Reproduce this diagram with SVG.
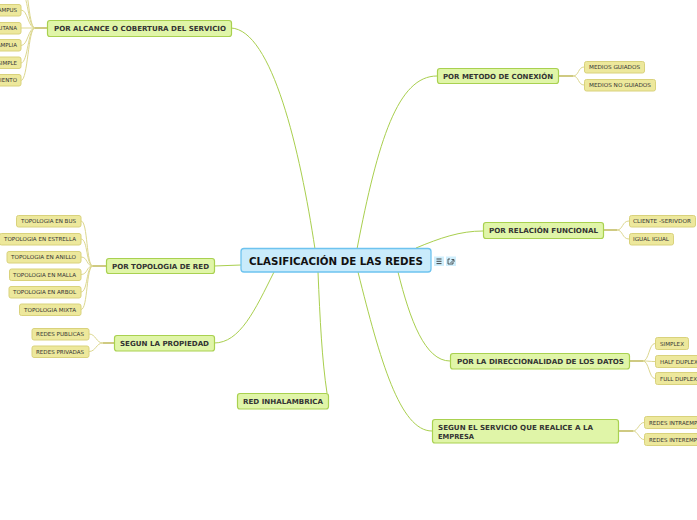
<svg xmlns="http://www.w3.org/2000/svg" width="697" height="520" viewBox="0 0 697 520">
<style>
.main rect{fill:#e0f5a8;stroke:#a9d150;stroke-width:1.2}
.main text{font-family:"DejaVu Sans",Verdana,sans-serif;font-weight:bold;font-size:7px;fill:#333}
.leaf rect{fill:#ede89c;stroke:#d9d27c;stroke-width:1}
.leaf text{font-family:"DejaVu Sans",Verdana,sans-serif;font-size:5.5px;fill:#333}
.c{fill:none;stroke:#a9cf4e;stroke-width:1}
.s{fill:none;stroke:#b5ad3e;stroke-width:1.3}
.l{fill:none;stroke:#dcd78f;stroke-width:1}
</style>
<rect width="697" height="520" fill="#fff"/>
<g id="connectors">
<path class="c" d="M315,249 C300,150 272,30 231,28"/>
<path class="c" d="M357,249 C378,140 398,76 437,76"/>
<path class="c" d="M416,248 C440,238 460,231 483,231"/>
<path class="c" d="M241,265 L214,266"/>
<path class="c" d="M274,272 C255,310 240,343 214,343"/>
<path class="c" d="M318,272 C320,320 322,360 327,393"/>
<path class="c" d="M398,272 C410,320 425,361 450,361"/>
<path class="c" d="M358,272 C380,360 400,431 432,431"/>
<path class="s" d="M47,28 H35"/>
<path class="l" d="M35,28 C28,28 28,-26 21,-26 M35,28 C28,28 28,-8 21,-8 M35,28 C28,28 28,10 21,10 M35,28 H21 M35,28 C28,28 28,45.5 21,45.5 M35,28 C28,28 28,63 21,63 M35,28 C28,28 28,80.5 21,80.5"/>
<path class="s" d="M559,76 H573"/>
<path class="l" d="M573,76 C579,76 578,67 584,67 M573,76 C579,76 578,85 584,85"/>
<path class="s" d="M603,230 H617"/>
<path class="l" d="M617,230 C623,230 622,221 629,221 M617,230 C623,230 622,239 629,239"/>
<path class="s" d="M106,266 H93"/>
<path class="l" d="M93,266 C86,266 88,221 81,221 M93,266 C86,266 88,239 81,239 M93,266 C86,266 88,257 81,257 M93,266 C86,266 88,274.5 81,274.5 M93,266 C86,266 88,292 81,292 M93,266 C86,266 88,309.5 81,309.5"/>
<path class="s" d="M115,343 H103"/>
<path class="l" d="M103,343 C96,343 96,334 89,334 M103,343 C96,343 96,351.5 89,351.5"/>
<path class="s" d="M629,361 H643"/>
<path class="l" d="M643,361 C649,361 649,343.5 655,343.5 M643,361 C649,361 649,361.5 655,361.5 M643,361 C649,361 649,378.5 655,378.5"/>
<path class="s" d="M619,431 H633"/>
<path class="l" d="M633,431 C638,431 639,422.5 644,422.5 M633,431 C638,431 639,439.5 644,439.5"/>
</g>
<g id="center">
<rect x="241" y="248.5" width="190" height="23.5" rx="3" fill="#c9ebfb" stroke="#6ec3ef" stroke-width="1.3"/>
<text x="336" y="264.5" text-anchor="middle" font-family="DejaVu Sans,Verdana,sans-serif" font-weight="bold" font-size="10" fill="#111" textLength="174" lengthAdjust="spacingAndGlyphs">CLASIFICACIÓN DE LAS REDES</text>
<rect x="434" y="256.5" width="10" height="9.5" fill="#cfeefc"/>
<path d="M436.5,259 h5 M436.5,261.3 h5 M436.5,263.6 h5" stroke="#333" stroke-width="0.9"/>
<rect x="446" y="256.5" width="10" height="9.5" fill="#cfeefc"/>
<path d="M450,259 h-2 v5 h5 v-2 M450.5,263 l3,-3 M451.5,259.5 h2.5 v2.5" stroke="#333" stroke-width="0.8" fill="none"/>
</g>
<g id="n-alcance" class="main"><rect x="47.5" y="20.5" width="184" height="16" rx="2.5"/><text x="54" y="31" textLength="172" lengthAdjust="spacingAndGlyphs">POR ALCANCE O COBERTURA DEL SERVICIO</text></g>
<g id="n-metodo" class="main"><rect x="437.5" y="68.5" width="121" height="15" rx="2.5"/><text x="443" y="78.7" textLength="110" lengthAdjust="spacingAndGlyphs">POR METODO DE CONEXIÓN</text></g>
<g id="n-relacion" class="main"><rect x="483.5" y="222.5" width="120" height="16" rx="2.5"/><text x="489" y="233" textLength="109" lengthAdjust="spacingAndGlyphs">POR RELACIÓN FUNCIONAL</text></g>
<g id="n-topologia" class="main"><rect x="106.5" y="258.5" width="108" height="15" rx="2.5"/><text x="112" y="268.7" textLength="97" lengthAdjust="spacingAndGlyphs">POR TOPOLOGIA DE RED</text></g>
<g id="n-propiedad" class="main"><rect x="114.5" y="335.5" width="100" height="15.5" rx="2.5"/><text x="120" y="346" textLength="89" lengthAdjust="spacingAndGlyphs">SEGUN LA PROPIEDAD</text></g>
<g id="n-inhalambrica" class="main"><rect x="237.5" y="393.5" width="91" height="15.5" rx="2.5"/><text x="243" y="404" textLength="80" lengthAdjust="spacingAndGlyphs">RED INHALAMBRICA</text></g>
<g id="n-direccionalidad" class="main"><rect x="450.5" y="353.5" width="179" height="15.5" rx="2.5"/><text x="457" y="364" textLength="167" lengthAdjust="spacingAndGlyphs">POR LA DIRECCIONALIDAD DE LOS DATOS</text></g>
<g id="n-servicio" class="main"><rect x="432.5" y="419.5" width="186" height="23.5" rx="2.5"/><text x="438" y="429.5" textLength="155" lengthAdjust="spacingAndGlyphs">SEGUN EL SERVICIO QUE REALICE A LA</text><text x="438" y="438.5" textLength="36" lengthAdjust="spacingAndGlyphs">EMPRESA</text></g>
<g id="l-campus" class="leaf"><rect x="-60" y="4.5" width="81" height="11.5" rx="2"/><text x="17" y="12.3" text-anchor="end">RED DE AREA CAMPUS</text></g>
<g id="l-metropolitana" class="leaf"><rect x="-80" y="22.5" width="101" height="11.5" rx="2"/><text x="17" y="30.3" text-anchor="end">RED DE AREA METROPOLITANA</text></g>
<g id="l-amplia" class="leaf"><rect x="-60" y="39.5" width="81" height="11.5" rx="2"/><text x="17" y="47.3" text-anchor="end">RED DE AREA AMPLIA</text></g>
<g id="l-simple" class="leaf"><rect x="-60" y="57" width="81" height="11.5" rx="2"/><text x="17" y="64.8" text-anchor="end">RED DE AREA SIMPLE</text></g>
<g id="l-almacenamiento" class="leaf"><rect x="-90" y="74.5" width="111" height="11.5" rx="2"/><text x="17" y="82.3" text-anchor="end">RED DE AREA DE ALMACENAMIENTO</text></g>
<g id="l-guiados" class="leaf"><rect x="584.5" y="61.5" width="60" height="11.5" rx="2"/><text x="589" y="69.2" textLength="51" lengthAdjust="spacingAndGlyphs">MEDIOS GUIADOS</text></g>
<g id="l-noguiados" class="leaf"><rect x="584.5" y="79.5" width="71" height="11.5" rx="2"/><text x="589" y="87.2" textLength="62" lengthAdjust="spacingAndGlyphs">MEDIOS NO GUIADOS</text></g>
<g id="l-cliente" class="leaf"><rect x="629.5" y="215.5" width="66" height="11.5" rx="2"/><text x="633" y="223.2" textLength="58" lengthAdjust="spacingAndGlyphs">CLIENTE -SERIVDOR</text></g>
<g id="l-igual" class="leaf"><rect x="629.5" y="233.5" width="44" height="11.5" rx="2"/><text x="633" y="241.2" textLength="36" lengthAdjust="spacingAndGlyphs">IGUAL IGUAL</text></g>
<g id="l-bus" class="leaf"><rect x="16.5" y="215.5" width="64.5" height="11.5" rx="2"/><text x="21" y="223.2" textLength="55" lengthAdjust="spacingAndGlyphs">TOPOLOGIA EN BUS</text></g>
<g id="l-estrella" class="leaf"><rect x="-0.5" y="233.5" width="81.5" height="11.5" rx="2"/><text x="4" y="241.2" textLength="72" lengthAdjust="spacingAndGlyphs">TOPOLOGIA EN ESTRELLA</text></g>
<g id="l-anillo" class="leaf"><rect x="7" y="251.5" width="74" height="11.5" rx="2"/><text x="11" y="259.2" textLength="65" lengthAdjust="spacingAndGlyphs">TOPOLOGIA EN ANILLO</text></g>
<g id="l-malla" class="leaf"><rect x="9.5" y="269" width="71.5" height="11.5" rx="2"/><text x="13" y="276.7" textLength="63" lengthAdjust="spacingAndGlyphs">TOPOLOGIA EN MALLA</text></g>
<g id="l-arbol" class="leaf"><rect x="9" y="286.5" width="72" height="11.5" rx="2"/><text x="13" y="294.2" textLength="63" lengthAdjust="spacingAndGlyphs">TOPOLOGIA EN ARBOL</text></g>
<g id="l-mixta" class="leaf"><rect x="19.5" y="304" width="61.5" height="11.5" rx="2"/><text x="24" y="311.7" textLength="52" lengthAdjust="spacingAndGlyphs">TOPOLOGIA MIXTA</text></g>
<g id="l-publicas" class="leaf"><rect x="32" y="328.5" width="57" height="11.5" rx="2"/><text x="36" y="336.2" textLength="48" lengthAdjust="spacingAndGlyphs">REDES PUBLICAS</text></g>
<g id="l-privadas" class="leaf"><rect x="32" y="346" width="57" height="11.5" rx="2"/><text x="36" y="353.7" textLength="48" lengthAdjust="spacingAndGlyphs">REDES PRIVADAS</text></g>
<g id="l-simplex" class="leaf"><rect x="655.5" y="337.5" width="33" height="12" rx="2"/><text x="660" y="345.5" textLength="24" lengthAdjust="spacingAndGlyphs">SIMPLEX</text></g>
<g id="l-half" class="leaf"><rect x="655.5" y="355.5" width="50" height="12" rx="2"/><text x="660" y="363.5">HALF DUPLEX</text></g>
<g id="l-full" class="leaf"><rect x="655.5" y="372.5" width="50" height="12" rx="2"/><text x="660" y="380.5">FULL DUPLEX</text></g>
<g id="l-intra" class="leaf"><rect x="644.5" y="416.5" width="70" height="12" rx="2"/><text x="649" y="424.5">REDES INTRAEMPRESA</text></g>
<g id="l-inter" class="leaf"><rect x="644.5" y="433.5" width="70" height="12" rx="2"/><text x="649" y="441.5">REDES INTEREMPRESA</text></g>
</svg>
